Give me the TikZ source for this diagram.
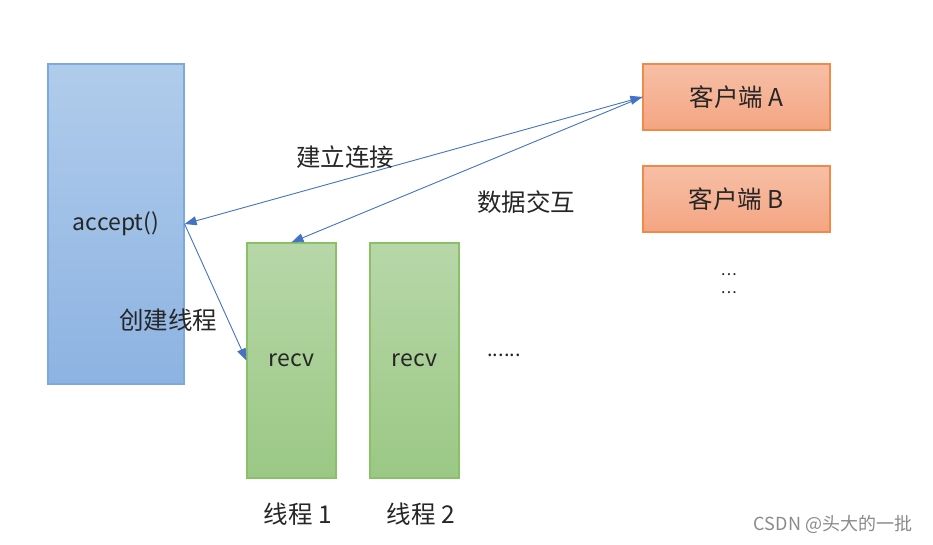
\documentclass[tikz,border=0pt]{standalone}
\usepackage{fontspec}
\setmainfont{Noto Sans CJK SC}
\usetikzlibrary{arrows.meta}
\definecolor{arr}{HTML}{4472C4}
\definecolor{bluetop}{HTML}{B0CCEB}
\definecolor{bluebot}{HTML}{8DB3E2}
\definecolor{blueline}{HTML}{7EA9DD}
\definecolor{greentop}{HTML}{B7D7A8}
\definecolor{greenbot}{HTML}{9BC885}
\definecolor{greenline}{HTML}{8CC068}
\definecolor{orangetop}{HTML}{F7BFA6}
\definecolor{orangebot}{HTML}{F4A582}
\definecolor{orangeline}{HTML}{F08A4B}
\definecolor{wm}{HTML}{8A8A8A}
\newcommand{\tdots}{.\kern1.2pt.\kern1.2pt.}
\tikzset{
  boxbase/.style={rectangle, inner sep=0pt, line width=1.2pt, font=\fontsize{23}{27}\selectfont, text=black!85},
  bluebox/.style={boxbase, draw=blueline, top color=bluetop, bottom color=bluebot},
  greenbox/.style={boxbase, draw=greenline, top color=greentop, bottom color=greenbot},
  orangebox/.style={boxbase, draw=orangeline, top color=orangetop, bottom color=orangebot, font=\fontsize{24.5}{28}\selectfont},
  lbl/.style={font=\fontsize{24.5}{28}\selectfont, text=black!85, inner sep=0pt},
  dots/.style={font=\fontsize{20}{18}\selectfont, text=black!85, inner sep=0pt},
  vdots/.style={font=\fontsize{16}{18}\selectfont, text=black!85, inner sep=0pt},
  conn/.style={draw=arr, line width=0.9pt, -{Triangle[length=12pt,width=9pt]}},
  conn2/.style={draw=arr, line width=0.9pt, {Triangle[length=12pt,width=9pt]}-{Triangle[length=12pt,width=9pt]}},
}
\begin{document}
\begin{tikzpicture}[x=1pt,y=-1pt]
\useasboundingbox (0,0) rectangle (933,545);
\node[bluebox, minimum width=136pt, minimum height=320pt] (acc) at (116,224) {accept()};
\node[greenbox, minimum width=89pt, minimum height=235pt] (t1) at (291.5,360.5) {recv};
\node[greenbox, minimum width=89pt, minimum height=235pt] (t2) at (414.5,360.5) {recv};
\node[orangebox, minimum width=187pt, minimum height=66pt] (ca) at (736.5,97) {客户端 A};
\node[orangebox, minimum width=187pt, minimum height=66pt] (cb) at (736.5,199) {客户端 B};
\draw[conn2] (acc.east) -- (ca.west);
\draw[conn] (ca.west) -- (t1.north);
\draw[conn] (acc.east) -- (t1.west);
\node[lbl] (l1) at (345,157) {建立连接};
\node[lbl] (l2) at (526,202) {数据交互};
\node[lbl] (l3) at (168,320) {创建线程};
\node[lbl] (n1) at (298,514) {线程 1};
\node[lbl] (n2) at (421,514) {线程 2};
\node[dots, anchor=base] (d1) at (504,356) {......};
\node[vdots, align=center] (d2) at (729,284) {\tdots\\\tdots};
\node[lbl, font=\fontsize{18}{21}\selectfont, text=wm] (w) at (833,524) {CSDN @头大的一批};
\end{tikzpicture}
\end{document}
